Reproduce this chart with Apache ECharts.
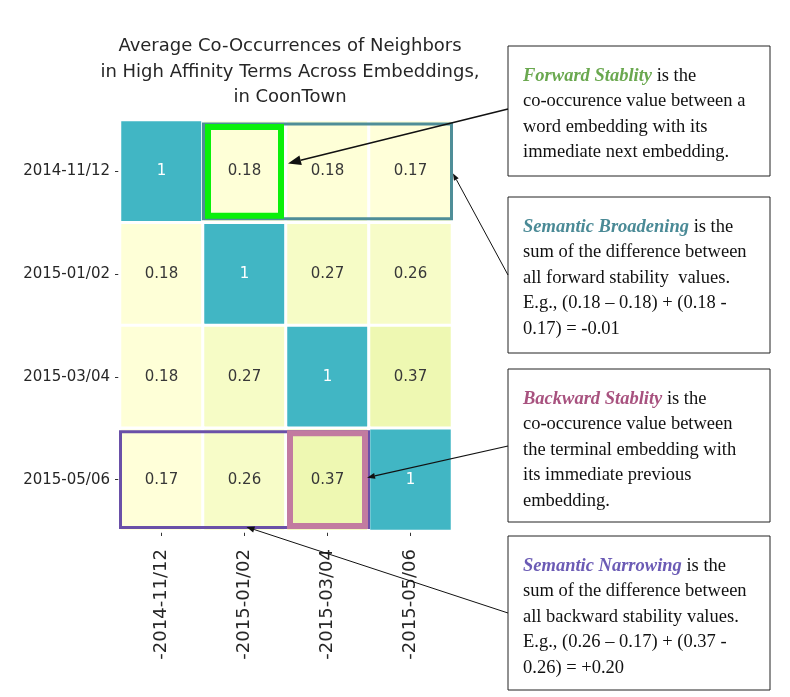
<!DOCTYPE html>
<html>
<head>
<meta charset="utf-8">
<script src="https://cdn.jsdelivr.net/npm/echarts@6/dist/echarts.min.js"></script>
<style>
  html, body { margin: 0; padding: 0; background: #fff; }
  #main { width: 790px; height: 697px; }
</style>
</head>
<body>
<div id="main"></div>
<script>
var dates = ['2014-11/12', '2015-01/02', '2015-03/04', '2015-05/06'];
// rows follow the y axis top to bottom, columns follow the x axis
var coOccur = [
    [1, 0.18, 0.18, 0.17],
    [0.18, 1, 0.27, 0.26],
    [0.18, 0.27, 1, 0.37],
    [0.17, 0.26, 0.37, 1]
];
var titleLines = ['Average Co-Occurrences of Neighbors', 'in High Affinity Terms Across Embeddings,', 'in CoonTown'];

var heatData = [];
for (var r = 0; r < coOccur.length; r++) {
    for (var c = 0; c < coOccur[r].length; c++) {
        var v = coOccur[r][c];
        heatData.push({
            value: [c, r, v],
            label: {color: v > 0.6 ? '#ffffff' : '#383838'}
        });
    }
}

var myChart = echarts.init(document.getElementById('main'), null, {renderer: 'canvas'});
var option = {
    backgroundColor: '#ffffff',
    animation: false,
    title: {
        text: titleLines.join('\n'),
        left: 285,
        top: 29,
        textAlign: 'center',
        textStyle: {
            fontFamily: 'DejaVu Sans',
            fontSize: 18,
            fontWeight: 'normal',
            color: '#262626',
            lineHeight: 25.5
        }
    },
    grid: {left: 120, right: 338, top: 120, bottom: 166},
    xAxis: {
        type: 'category',
        data: dates,
        axisLine: {show: false},
        axisTick: {show: true, length: 5, alignWithLabel: true, lineStyle: {color: '#333'}},
        splitArea: {show: false},
        axisLabel: {
            rotate: 90,
            margin: 18,
            fontFamily: 'DejaVu Sans',
            fontSize: 18,
            color: '#262626',
            formatter: function (v) { return '-' + v; }
        }
    },
    yAxis: {
        type: 'category',
        data: dates,
        inverse: true,
        axisLine: {show: false},
        axisTick: {show: true, length: 5, alignWithLabel: true, lineStyle: {color: '#333'}},
        axisLabel: {
            margin: 10,
            fontFamily: 'DejaVu Sans',
            fontSize: 15,
            color: '#262626'
        }
    },
    visualMap: {
        show: false,
        min: 0.17,
        max: 1,
        dimension: 2,
        inRange: {color: ['#ffffd9', '#edf8b1', '#c7e9b4', '#7fcdbb', '#41b6c4']}
    },
    series: [{
        type: 'heatmap',
        data: heatData,
        itemStyle: {borderColor: '#ffffff', borderWidth: 3},
        label: {
            show: true,
            fontFamily: 'DejaVu Sans',
            fontSize: 15,
            formatter: function (p) { return String(p.value[2]); }
        },
        emphasis: {disabled: true}
    }]
};
myChart.setOption(option);

// cell geometry from the axes
function cellBox(c, r) {
    var p0 = myChart.convertToPixel({gridIndex: 0}, [0, 0]);
    var p1 = myChart.convertToPixel({gridIndex: 0}, [1, 1]);
    var w = p1[0] - p0[0], h = p1[1] - p0[1];
    var ctr = myChart.convertToPixel({gridIndex: 0}, [c, r]);
    return {x: ctr[0] - w / 2, y: ctr[1] - h / 2, w: w, h: h, cx: ctr[0], cy: ctr[1]};
}

function frame(b0, b1, ix, iy, color, lw) {
    return {
        type: 'rect',
        z: 100,
        shape: {x: b0.x + ix, y: b0.y + iy, width: b1.x + b1.w - b0.x - 2 * ix, height: b1.y + b1.h - b0.y - 2 * iy},
        style: {fill: null, stroke: color, lineWidth: lw}
    };
}

function arrow(x1, y1, x2, y2, head, lw) {
    var ang = Math.atan2(y2 - y1, x2 - x1);
    var bx = x2 - head * Math.cos(ang), by = y2 - head * Math.sin(ang);
    var hw = head * 0.38;
    var px = -Math.sin(ang) * hw, py = Math.cos(ang) * hw;
    return [
        {type: 'line', z: 110, shape: {x1: x1, y1: y1, x2: bx, y2: by}, style: {stroke: '#111', lineWidth: lw}},
        {type: 'polygon', z: 110, shape: {points: [[x2, y2], [bx + px, by + py], [bx - px, by - py]]}, style: {fill: '#111'}}
    ];
}

function noteBox(x, y, w, h, lines, headColor) {
    return [
        {type: 'rect', z: 90, shape: {x: x, y: y, width: w, height: h}, style: {fill: '#fff', stroke: '#222', lineWidth: 1}},
        {
            type: 'text', z: 95, x: x + 15, y: y + 17,
            style: {
                text: lines.join('\n'),
                fontFamily: 'Liberation Serif',
                fontSize: 18.5,
                lineHeight: 25.5,
                fill: '#111',
                rich: {
                    h: {fill: headColor, fontFamily: 'Liberation Serif', fontSize: 18.5, fontStyle: 'italic', fontWeight: 'bold', lineHeight: 25.5}
                }
            }
        }
    ];
}

var g = [];
var c10 = cellBox(1, 0), c30 = cellBox(3, 0), c23 = cellBox(2, 3), c03 = cellBox(0, 3), c13 = cellBox(1, 3);
g.push(frame(c10, c30, 0.5, 4, '#4f8e98', 3));
g.push(frame(c03, c23, 0.5, 3.5, '#6a50a8', 3));
g.push(frame(c10, c10, 5, 7, '#0af00a', 6));
g.push(frame(c23, c23, 4, 5, '#c27ba0', 6));

g = g.concat(noteBox(508, 46, 262, 130, [
    '{h|Forward Stablity} is the',
    'co-occurence value between a',
    'word embedding with its',
    'immediate next embedding.'
], '#6aa84f'));
g = g.concat(noteBox(508, 197, 262, 156, [
    '{h|Semantic Broadening} is the',
    'sum of the difference between',
    'all forward stability  values.',
    'E.g., (0.18 \u2013 0.18) + (0.18 -',
    '0.17) = -0.01'
], '#4a8a96'));
g = g.concat(noteBox(508, 369, 262, 153, [
    '{h|Backward Stablity} is the',
    'co-occurence value between',
    'the terminal embedding with',
    'its immediate previous',
    'embedding.'
], '#a8527f'));
g = g.concat(noteBox(508, 536, 262, 154, [
    '{h|Semantic Narrowing} is the',
    'sum of the difference between',
    'all backward stability values.',
    'E.g., (0.26 \u2013 0.17) + (0.37 -',
    '0.26) = +0.20'
], '#6b5bb5'));

g = g.concat(arrow(508, 109, c10.x + c10.w + 2, c10.cy - 8, 13, 1.6));
g = g.concat(arrow(508, 275, c30.x + c30.w + 1, c30.cy + 2, 7, 1));
g = g.concat(arrow(508, 446, c23.x + c23.w - 2, c23.cy - 2, 8, 1.2));
g = g.concat(arrow(508, 613, c13.cx + 2, c13.y + c13.h - 4, 8, 1));

myChart.setOption({graphic: g});
</script>
</body>
</html>
